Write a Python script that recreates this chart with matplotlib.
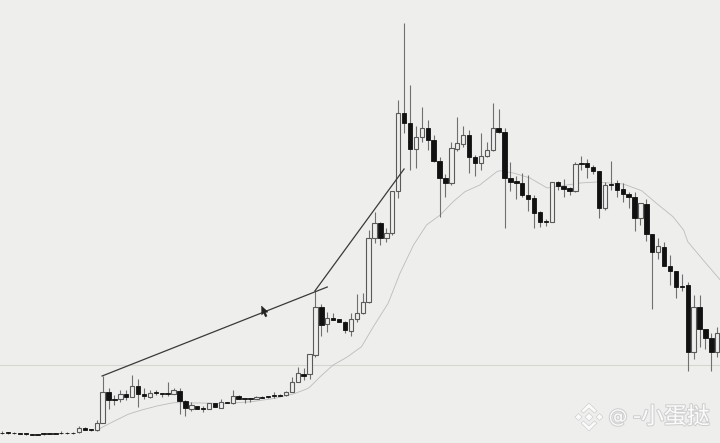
import matplotlib
matplotlib.use("Agg")
import matplotlib.pyplot as plt
import matplotlib.patheffects as pe
from matplotlib.patches import Polygon

bg = "#eeeeed"

# values, axis runs downwards like the screenshot
opens = [432.5, 432.3, 432.5, 432.8, 433.2, 433.8, 433.8, 433.4, 433, 433,
         432.6, 432.6, 432.6, 432, 428.4, 429, 430, 423.3, 391.7, 398.5,
         399, 394, 396.7, 385.7, 393.7, 396.7, 392.2, 393, 392.8, 394,
         390.7, 400.7, 408.7, 406, 408.2, 408.7, 403.3, 407.5, 402, 403.3,
         395.7, 398, 398, 399, 396.6, 396, 395.2, 394.6, 395.3, 392,
         381.7, 374, 374, 355, 307.3, 324, 317.7, 319.3, 321.7, 330.7,
         319, 312.7, 302.3, 238.3, 223.3, 237.7, 233.3, 191, 113.3, 122.7,
         149, 136.7, 128.3, 140, 161, 178.3, 182.7, 149, 144, 135.3,
         156.7, 163.3, 156, 150.3, 128.3, 132, 178.3, 181, 183.3, 195,
         197.7, 212.3, 221.2, 221.7, 182.3, 186, 188.3, 191, 163, 163.3,
         167, 171, 208.3, 183.5, 183.3, 189.3, 193.7, 197.3, 217.7, 204,
         234, 251.7, 246.7, 265.7, 271, 286.2, 285.3, 351.7, 307.3, 329.3,
         338.3, 352.3]
closes = [433, 433, 433.2, 433.6, 434.2, 434.8, 434.6, 434.2, 433.8, 433.8,
          433.4, 433.4, 433.4, 428, 429.6, 430.2, 422.7, 391.7, 400, 399.5,
          394, 396.7, 385.7, 394, 396, 392.7, 393.2, 394, 393.8, 390,
          401, 408.3, 405, 408.7, 409, 403.3, 406.7, 402, 403, 396,
          398.7, 399, 399, 396.7, 397.6, 396.8, 396.2, 395.6, 391.7, 381.7,
          373.3, 375.7, 354.3, 307.3, 325, 317.7, 319.7, 321.7, 330.3, 319,
          312.7, 302.3, 238, 223.3, 237.7, 233.3, 191, 112.7, 122.7, 149,
          136.7, 128.3, 140, 161, 178.3, 182.7, 148.3, 143.3, 135, 156.7,
          163.3, 156, 150.3, 128.3, 132, 178.3, 181.7, 183, 195, 199,
          212.7, 221.7, 222, 181.7, 186, 189, 191, 163.7, 164, 167,
          171, 208.3, 185.3, 184.5, 190, 194.3, 197.3, 217.7, 203.3, 234,
          251.7, 245.7, 265.7, 271, 287, 287.2, 351.7, 307.3, 329, 338.3,
          352.3, 333.3]
highs = [431, 432, 432, 432.5, 433, 433.5, 433.5, 433, 432.8, 432.8,
         431, 432.2, 432.2, 426, 427, 428.5, 420, 376, 388, 395,
         390, 390, 375, 379, 388, 390, 390, 392.5, 381.7, 387.7,
         388, 400, 401.7, 405.5, 406, 403, 403, 399, 401.5, 390,
         395, 397.7, 397.5, 396, 396, 395.5, 391.7, 394, 391, 376.7,
         366.7, 368, 354, 290, 304, 311.7, 313, 319, 321, 313.3,
         294, 293.3, 230, 211.7, 221.7, 228, 191, 100, 23.3, 85,
         126, 107.3, 120, 135, 156.7, 174.3, 141.7, 116.7, 125.7, 130,
         155, 133.3, 141.7, 103.3, 109, 127.7, 162.3, 176, 173.3, 175,
         195, 211, 219, 181.7, 181, 179, 186.5, 162, 156, 159,
         165, 170.5, 181.7, 161, 180, 182.7, 191.5, 192.3, 203, 199,
         233.5, 238.3, 242.3, 255, 270.5, 274.3, 282.3, 295, 295, 329,
         333.3, 326.7]
lows = [434, 433.5, 433.5, 434, 434.5, 435, 435, 434.5, 434.2, 434.2,
        434, 433.8, 433.6, 432.5, 430, 430.5, 430.5, 423.3, 409, 405,
        402, 400, 397, 406.7, 399, 398, 395, 397.3, 396, 394,
        414, 416, 410.7, 409, 412, 409, 407, 408, 403.3, 403.5,
        399, 402.7, 402.3, 399.3, 398, 397.5, 398.3, 396, 395.5, 392,
        382, 380, 379.3, 357.3, 335.7, 332.3, 320, 322, 333.3, 336,
        322.3, 314, 302.5, 243, 245, 242, 235, 198.3, 133.3, 170,
        167.7, 141.7, 150, 161.7, 217.3, 196.7, 185, 151, 146.7, 172.7,
        175.7, 170, 156.5, 150.5, 132.5, 228.3, 191, 199, 196.7, 211,
        228.3, 226.7, 225.7, 222, 190, 197.3, 195, 191.5, 170, 178.3,
        174, 218.3, 210, 190, 196.7, 202.3, 207.7, 230.7, 225, 240.7,
        309.3, 259.3, 266, 285, 298.3, 290.7, 371, 359.3, 346.7, 349,
        370.7, 357.3]

# moving average, read at these candle numbers
ma_pos = [16.2, 17.1, 19.1, 21.3, 23.6, 26.4, 29.0, 33.5, 37.7, 42.2, 46.2,
          49.5, 51.7, 52.1, 53.8, 56.0, 58.3, 60.8, 62.8, 65.3, 67.3, 69.6,
          71.8, 74.1, 76.3, 78.3, 80.8, 83.7, 84.2, 86.5, 89.3, 92.2, 97.8,
          100.6, 105.1, 108.2, 110.7, 113.5, 115.3, 116.0, 118.6, 121.5]
ma_val = [430, 426.7, 420.7, 414.3, 410, 405.7, 402.7, 403, 403.5, 401.7,
          398.3, 393.5, 388.5, 386.7, 376.7, 365, 357.3, 346.7, 326.7, 303.3,
          273.3, 245, 225, 215, 201.7, 191.7, 185, 171.7, 170.7, 173, 178,
          188, 183, 182, 184, 190.7, 203.3, 216.7, 230, 241.7, 260, 280]

level_y = 365
trend_a_pos = [16.9, 55.0]
trend_a_val = [376, 287]
trend_b_pos = [52.9, 68.0]
trend_b_val = [291, 169]
cursor_pos = [43.87, 43.92, 44.21, 44.55, 44.81, 44.55, 44.97]
cursor_val = [306, 315, 313, 317, 316, 312.5, 312]

fig = plt.figure(figsize=(7.2, 4.43), dpi=100, facecolor=bg)
ax = fig.add_axes([0, 0, 1, 1])
ax.set_facecolor(bg)
ax.set_xlim(-2.2 / 5.91, 717.8 / 5.91)
ax.set_ylim(443, 0)
ax.axis("off")

ax.axhline(level_y, color="#d6d6cf", lw=0.8, zorder=1)
ax.plot(ma_pos, ma_val, color="#bcbcbc", lw=0.6, zorder=1)

for i in range(len(opens)):
    ax.vlines(i, highs[i], lows[i], color="#707070", lw=0.8, zorder=2)
    top = min(opens[i], closes[i])
    h = abs(closes[i] - opens[i])
    if closes[i] > opens[i]:
        ax.bar(i, h, bottom=top, width=0.74, color="#111111",
               edgecolor="#111111", linewidth=0.6, zorder=3)
    else:
        ax.bar(i, h, bottom=top, width=0.74, color=bg,
               edgecolor="#5a5a5a", linewidth=0.8, zorder=3)

ax.plot(trend_a_pos, trend_a_val, color="#3a3a3a", lw=0.9, zorder=4)
ax.plot(trend_b_pos, trend_b_val, color="#3a3a3a", lw=0.9, zorder=4)
ax.add_patch(Polygon(list(zip(cursor_pos, cursor_val)), closed=True,
                     color="#222222", lw=0.3, zorder=5))

# watermark in the corner, logo shapes are in picture pixels
white = "#fbfbfb"
soft = [pe.Stroke(linewidth=1.6, foreground="#c4c4c4", alpha=0.7), pe.Normal()]
logo_shapes = [
    [(589, 413), (593, 417), (589, 421), (585, 417)],
    [(578.5, 413.5), (582, 417), (578.5, 420.5), (575, 417)],
    [(599.5, 413.5), (603, 417), (599.5, 420.5), (596, 417)],
    [(589, 403), (597, 411), (594.5, 413), (589, 408), (583.5, 413), (581, 411)],
    [(589, 431), (597, 423), (594.5, 421), (589, 426), (583.5, 421), (581, 423)],
]
for shape in logo_shapes:
    pts = [(px / 720, 1 - py / 443) for px, py in shape]
    fig.add_artist(Polygon(pts, closed=True, facecolor=white, edgecolor="#cfcfcf",
                           lw=0.5, transform=fig.transFigure, zorder=6))
fig.text(618 / 720, 1 - 417 / 443, "@", color=white, fontsize=13.5,
         ha="center", va="center", family="DejaVu Sans", path_effects=soft)
fig.text(633 / 720, 1 - 417 / 443, "-小蛋挞", color=white, fontsize=16.5,
         ha="left", va="center", family=["Noto Sans CJK SC", "DejaVu Sans"], path_effects=soft)

fig.savefig("out.png", dpi=100, facecolor=bg)
